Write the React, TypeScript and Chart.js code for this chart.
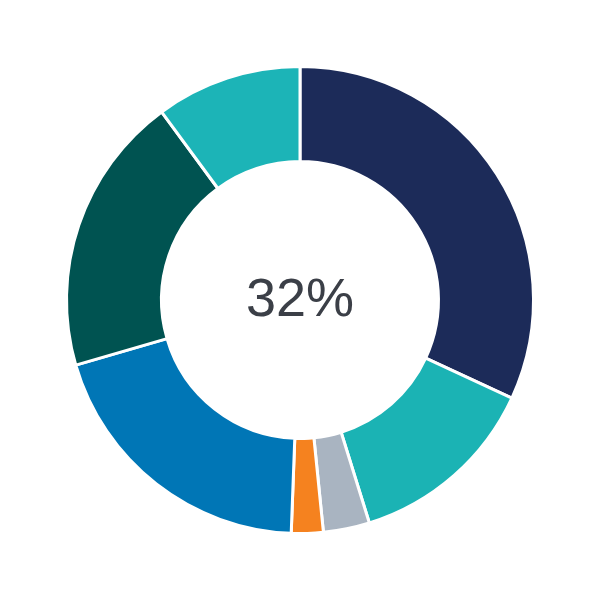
import React, { useEffect, useRef } from "react";
import { Chart, registerables } from "chart.js";

Chart.register(...registerables);

const categories = ["Segment A", "Segment B", "Segment C", "Segment D", "Segment E", "Segment F", "Segment G"];
const values = [31.9, 13.3, 3.2, 2.2, 19.9, 19.4, 10.1];
const colors = ["#1c2b59", "#1bb3b4", "#a9b4c1", "#f5821f", "#0076b6", "#005351", "#1cb4b7"];
const centerLabel = "32%";

const centerTextPlugin = {
  id: "centerText",
  afterDraw(chart: any) {
    const meta = chart.getDatasetMeta(0);
    const arc = meta.data[0];
    if (!arc) return;
    const { x, y } = arc.getProps(["x", "y"], true);
    const ctx = chart.ctx;
    ctx.save();
    ctx.font = '400 54px "Liberation Sans", Arial, sans-serif';
    ctx.fillStyle = "#3b3f47";
    ctx.textAlign = "center";
    ctx.textBaseline = "alphabetic";
    ctx.fillText(centerLabel, x, y + 16);
    ctx.restore();
  },
};

export default function App() {
  const ref = useRef<HTMLCanvasElement | null>(null);
  useEffect(() => {
    if (!ref.current) return;
    const chart = new Chart(ref.current, {
      type: "doughnut",
      data: {
        labels: categories,
        datasets: [
          {
            data: values,
            backgroundColor: colors,
            borderColor: "#ffffff",
            borderWidth: 3,
            hoverOffset: 0,
          },
        ],
      },
      options: {
        responsive: false,
        animation: false,
        cutout: "59.3%",
        layout: { padding: 65 },
        plugins: {
          legend: { display: false },
          tooltip: { enabled: false },
        },
      },
      plugins: [centerTextPlugin],
    });
    return () => chart.destroy();
  }, []);
  return (
    <div style={{ position: "fixed", left: 0, top: 0, width: 600, height: 600, background: "#fff" }}>
      <canvas ref={ref} width={600} height={600} style={{ display: "block" }} />
    </div>
  );
}
